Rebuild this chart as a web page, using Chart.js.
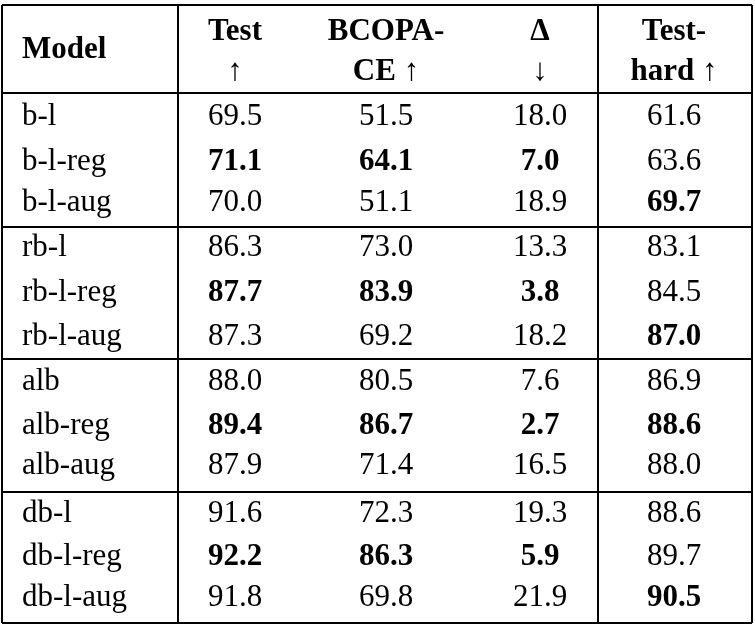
<!DOCTYPE html>
<html><head><meta charset="utf-8">
<script src="https://cdn.jsdelivr.net/npm/chart.js@4/dist/chart.umd.min.js"></script>
<style>html,body{margin:0;padding:0;background:#fff}#w{width:755px;height:627px}</style>
</head><body><div id="w"><canvas id="c"></canvas></div>
<script>
const models = ["b-l","b-l-reg","b-l-aug","rb-l","rb-l-reg","rb-l-aug","alb","alb-reg","alb-aug","db-l","db-l-reg","db-l-aug"];
const headers = [["Model"],["Test","↑"],["BCOPA-","CE ↑"],["Δ","↓"],["Test-","hard ↑"]];
const testVals = [69.5,71.1,70.0,86.3,87.7,87.3,88.0,89.4,87.9,91.6,92.2,91.8];
const bcopaVals = [51.5,64.1,51.1,73.0,83.9,69.2,80.5,86.7,71.4,72.3,86.3,69.8];
const deltaVals = [18.0,7.0,18.9,13.3,3.8,18.2,7.6,2.7,16.5,19.3,5.9,21.9];
const hardVals = [61.6,63.6,69.7,83.1,84.5,87.0,86.9,88.6,88.0,88.6,89.7,90.5];
const boldTest = [1,4,7,10], boldBcopa=[1,4,7,10], boldDelta=[1,4,7,10], boldHard=[2,5,7,11];

const colX = [22,235,386,540,674];   // layout (text anchors)
const rowY = [117,162,203,248,293,337,382,426,466,514,557,598];
const vLines=[2,178,598,752], hLines=[5,93,227,359,492,623];

const series=[testVals,bcopaVals,deltaVals,hardVals], bolds=[boldTest,boldBcopa,boldDelta,boldHard];
const tablePlugin={id:'tbl',afterDraw(ch){
 const c=ch.ctx,X=ch.scales.x,Y=ch.scales.y;
 c.save();c.fillStyle='#000';c.textBaseline='middle';
 c.font='bold 31px "Liberation Serif"';
 c.textAlign='left';c.fillText(headers[0][0],X.getPixelForValue(colX[0]),Y.getPixelForValue(50));
 c.textAlign='center';
 for(let j=1;j<5;j++){const h=headers[j];
  c.fillText(h[0],X.getPixelForValue(colX[j]),Y.getPixelForValue(32));
  c.fillText(h[1],X.getPixelForValue(colX[j]),Y.getPixelForValue(72));}
 for(let i=0;i<models.length;i++){
  c.font='31px "Liberation Serif"';c.textAlign='left';
  c.fillText(models[i],X.getPixelForValue(colX[0]),Y.getPixelForValue(rowY[i]));
  c.textAlign='center';
  for(let j=0;j<4;j++){
   c.font=(bolds[j].includes(i)?'bold ':'')+'31px "Liberation Serif"';
   c.fillText(series[j][i].toFixed(1),X.getPixelForValue(colX[j+1]),Y.getPixelForValue(rowY[i]));}
 }
 c.strokeStyle='#000';c.lineWidth=2;c.beginPath();
 vLines.forEach(v=>{c.moveTo(X.getPixelForValue(v),Y.getPixelForValue(5));c.lineTo(X.getPixelForValue(v),Y.getPixelForValue(623));});
 hLines.forEach(h=>{c.moveTo(X.getPixelForValue(2),Y.getPixelForValue(h));c.lineTo(X.getPixelForValue(752),Y.getPixelForValue(h));});
 c.stroke();c.restore();}};
new Chart(document.getElementById('c'),{type:'scatter',
 data:{datasets:series.map((s,j)=>({data:s.map((v,i)=>({x:colX[j+1],y:rowY[i]})),pointRadius:0}))},
 options:{animation:false,responsive:true,maintainAspectRatio:false,layout:{padding:0},
  plugins:{legend:{display:false},tooltip:{enabled:false}},
  scales:{x:{type:'linear',min:0,max:755,display:false},y:{type:'linear',min:0,max:627,reverse:true,display:false}}},
 plugins:[tablePlugin]});
</script></body></html>
